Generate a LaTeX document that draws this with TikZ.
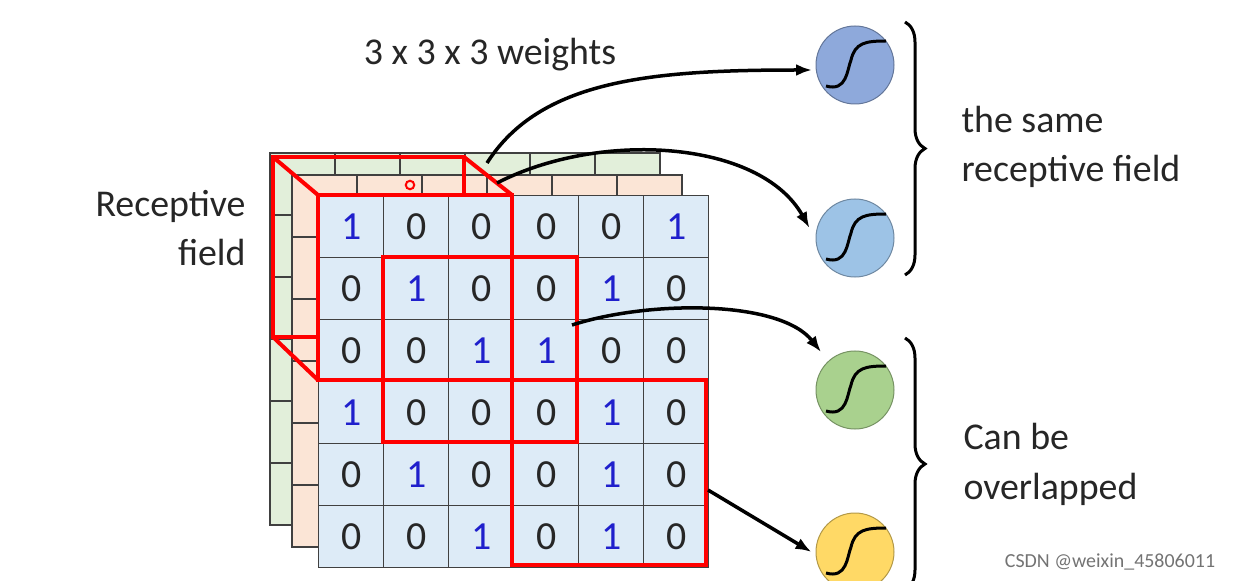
\documentclass[tikz,border=0pt]{standalone}
\usepackage{fontspec}
\setmainfont{Carlito}
\usetikzlibrary{decorations.pathreplacing,arrows.meta}
\begin{document}
\begin{tikzpicture}[x=1bp,y=-1bp,
  red/.style={draw=red, line width=4bp},
  arr/.style={-{Latex[length=16bp,width=12bp]}, line width=3.5bp},
  neu/.style={circle, minimum size=78bp, draw=#1!70!black, line width=1bp, fill=#1},
  txt/.style={text=black!85}]
\useasboundingbox (0,0) rectangle (1235,581);
\definecolor{gfill}{HTML}{E2EFDA}\definecolor{ofill}{HTML}{FBE5D6}\definecolor{bfill}{HTML}{DDEBF7}
\definecolor{n1}{HTML}{8EA9DB}\definecolor{n2}{HTML}{9DC3E6}\definecolor{n3}{HTML}{A9D18E}\definecolor{n4}{HTML}{FFD966}
\definecolor{dblue}{HTML}{1F1FCC}
% green layer
\foreach \i in {0,...,5}\foreach \j in {0,...,5}
  \draw[fill=gfill,draw=black!75,line width=1.2bp] (270+\i*65,153+\j*62) rectangle ++(65,62);
% orange layer
\foreach \i in {0,...,5}\foreach \j in {0,...,5}
  \draw[fill=ofill,draw=black!75,line width=1.2bp] (292+\i*65,175+\j*62) rectangle ++(65,62);
% back red box and connections
\draw[red] (273,157) rectangle (464,337);
\draw[red] (273,157) -- (318,195) (464,157) -- (512,195) (273,337) -- (318,380);
\node[circle,draw=red,line width=2bp,inner sep=3bp] (dot) at (410,185) {};
% front layer
\foreach \j/\row in {0/{1,0,0,0,0,1},1/{0,1,0,0,1,0},2/{0,0,1,1,0,0},3/{1,0,0,0,1,0},4/{0,1,0,0,1,0},5/{0,0,1,0,1,0}}{
  \foreach \v [count=\i from 0] in \row {
    \ifnum\v=1
      \node[draw=black!75,line width=1.2bp,fill=bfill,minimum width=65bp,minimum height=62bp,anchor=north west,inner sep=0,font=\fontsize{40}{40}\selectfont,text=dblue] (f\i\j) at (318+\i*65,195+\j*62) {1};
    \else
      \node[draw=black!75,line width=1.2bp,fill=bfill,minimum width=65bp,minimum height=62bp,anchor=north west,inner sep=0,font=\fontsize{40}{40}\selectfont,text=black!85] (f\i\j) at (318+\i*65,195+\j*62) {0};
    \fi
  }
}
\draw[red] (318,195) rectangle (512,380);
\draw[red] (383,257) rectangle (577,442);
\draw[red] (512,380) rectangle (706,565);
% neurons
\node[neu=n1] (c1) at (855,65) {};
\node[neu=n2] (c2) at (855,238) {};
\node[neu=n3] (c3) at (855,390) {};
\node[neu=n4] (c4) at (855,552) {};
\foreach \c in {c1,c2,c3,c4}
  \draw[line width=3bp] ([shift={(-29,21)}]\c.center) .. controls ([shift={(-8,27)}]\c.center) and ([shift={(-8,5)}]\c.center) .. ([shift={(-4,-5)}]\c.center) .. controls ([shift={(0,-22)}]\c.center) and ([shift={(10,-24)}]\c.center) .. ([shift={(31,-24)}]\c.center);
% arrows
\coordinate (s1) at (487,163); \coordinate (s2) at (497,183);
\coordinate (s3) at (572,325); \coordinate (s4) at (708,490);
\draw[arr] (s1) .. controls (540,80) and (650,70) .. (812,70);
\draw[arr] (s2) .. controls (600,130) and (760,140) .. ([shift={(-6,-10)}]c2.west);
\draw[arr] (s3) .. controls (650,300) and (780,300) .. ([shift={(-6,-10)}]c3.north west);
\draw[arr] (s4) -- ([shift={(-4,0)}]c4.west);
% braces
\draw[line width=3bp,decorate,decoration={brace,amplitude=20bp}] (905,22) -- (905,275);
\draw[line width=3bp,decorate,decoration={brace,amplitude=20bp}] (905,338) -- (905,590);
% texts
\node[txt,font=\fontsize{38}{50}\selectfont] (t1) at (490,55) {3 x 3 x 3 weights};
\node[txt,font=\fontsize{38}{50}\selectfont,align=right,anchor=east] (t2) at (249,228) {Receptive\\field};
\node[txt,font=\fontsize{38}{50}\selectfont,align=left,anchor=west] (t3) at (958,147) {the same\\receptive field};
\node[txt,font=\fontsize{38}{50}\selectfont,align=left,anchor=west] (t4) at (960,464) {Can be\\overlapped};
\node[font=\fontsize{20}{22}\selectfont,text=black!55] (cr) at (1110,562) {CSDN @weixin\_45806011};
\end{tikzpicture}
\end{document}
